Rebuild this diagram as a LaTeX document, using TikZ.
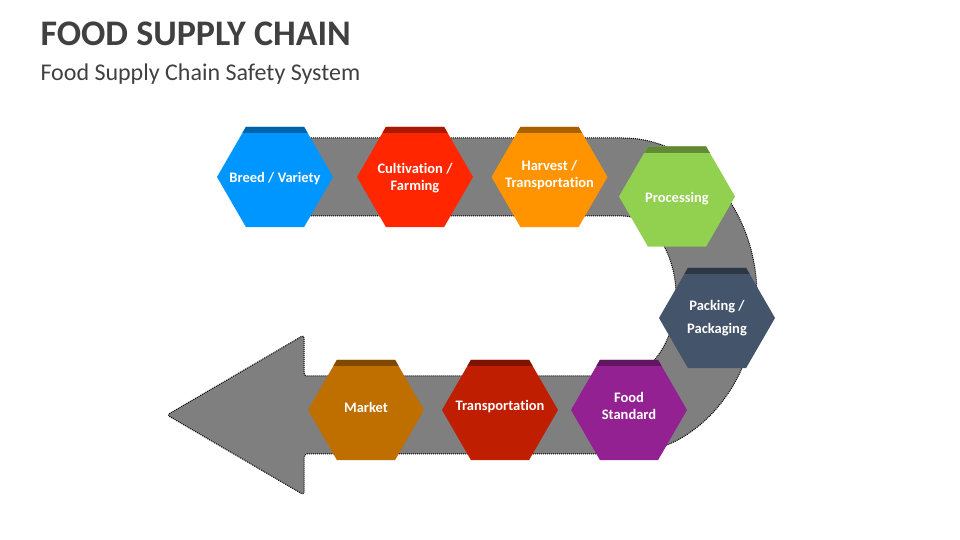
\documentclass[tikz,border=0pt]{standalone}
\usepackage{fontspec}
\setmainfont{Carlito}[Ligatures=NoCommon]
\usetikzlibrary{shapes.geometric}
\definecolor{titlegray}{HTML}{404040}
\definecolor{bandgray}{HTML}{7F7F7F}
\definecolor{cblue}{HTML}{0096FF}
\definecolor{cred}{HTML}{FF2600}
\definecolor{corange}{HTML}{FF9300}
\definecolor{cgreen}{HTML}{92D050}
\definecolor{cslate}{HTML}{44546A}
\definecolor{cpurple}{HTML}{932192}
\definecolor{cdarkred}{HTML}{BF1E00}
\definecolor{cbrown}{HTML}{BF6E00}
\tikzset{
  hexa/.style={regular polygon, regular polygon sides=6,
    minimum size=116pt, inner sep=0pt, fill=#1,
    path picture={\shade[top color=#1!65!black, bottom color=#1]
      (path picture bounding box.north west) rectangle ([yshift=-6pt]path picture bounding box.north east);}},
  hextext/.style={text=white, font=\fontsize{14.5}{16.5}\selectfont\bfseries, align=center, inner sep=0pt},
  band/.style={fill=bandgray, draw=black, densely dotted, line width=1pt, rounded corners=3pt}
}
\begin{document}
\begin{tikzpicture}[x=1pt,y=1pt]
\useasboundingbox (0,0) rectangle (960,540);
\node[anchor=base west, text=titlegray, font=\fontsize{36}{40}\selectfont\bfseries] (title) at (37,494) {FOOD SUPPLY CHAIN};
\node[anchor=base west, text=titlegray, font=\fontsize{24}{28}\selectfont] (subtitle) at (37,459) {Food Supply Chain Safety System};
% band
\path[band] (290,402) -- (620,402)
  arc[start angle=90, end angle=-90, x radius=137, y radius=158]
  -- (304,86) -- (304,45) -- (167,125) -- (304,205) -- (304,164) -- (620,164)
  arc[start angle=-90, end angle=90, x radius=56, y radius=80]
  -- (290,324) -- cycle;
% hexagons
\node[hexa=cblue] (breed) at (275,363) {};
\node[hexa=cred] (cult) at (415,363) {};
\node[hexa=corange] (harv) at (549.5,363) {};
\node[hexa=cgreen] (proc) at (677,343.5) {};
\node[hexa=cslate] (pack) at (717,222) {};
\node[hexa=cpurple] (std) at (629,130) {};
\node[hexa=cdarkred] (trans) at (500,130) {};
\node[hexa=cbrown] (market) at (366,130) {};
% labels
\node[hextext] (breedt) at ([yshift=-2pt]breed) {Breed / Variety};
\node[hextext] (cultt) at ([yshift=-1pt]cult) {Cultivation /\\Farming};
\node[hextext] (harvt) at ([yshift=2pt]harv) {Harvest /\\Transportation};
\node[hextext] (proct) at ([yshift=-2pt]proc) {Processing};
\node[hextext] (packt) at ([yshift=0pt]pack) {Packing /\\[6pt]Packaging};
\node[hextext] (stdt) at ([yshift=4pt]std) {Food\\Standard};
\node[hextext] (transt) at ([yshift=3pt]trans) {Transportation};
\node[hextext] (markett) at ([yshift=3pt]market) {Market};
\end{tikzpicture}
\end{document}
